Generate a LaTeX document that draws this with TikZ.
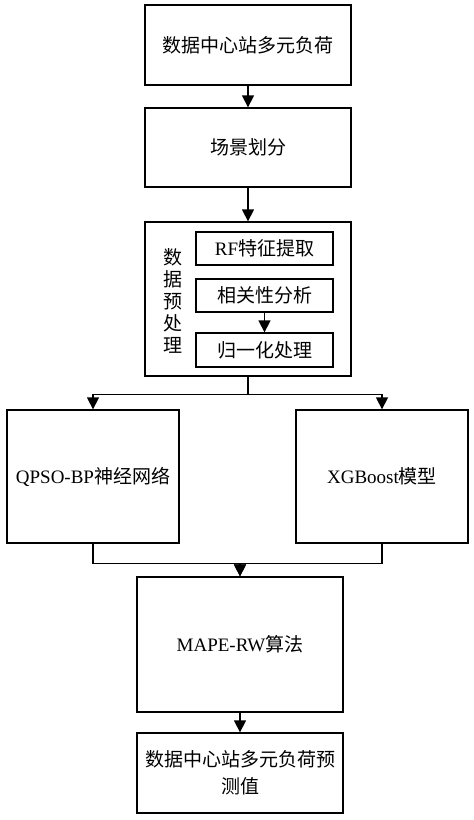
\documentclass[tikz,border=0pt]{standalone}
\usepackage{fontspec}
\setmainfont{Liberation Serif}
\newfontfamily\cjk{Noto Sans CJK SC}
\usetikzlibrary{arrows.meta}
\begin{document}
\begin{tikzpicture}[x=1pt,y=-1pt,
  box/.style={draw, line width=1.3pt, inner sep=0pt, align=center,
              font=\fontsize{19}{27}\selectfont},
  arr/.style={line width=1.3pt, -{Triangle[length=12pt,width=12pt]}},
  ln/.style={line width=1.3pt}]
\useasboundingbox (0,0) rectangle (474,820);
\node[box, minimum width=206pt, minimum height=80pt] (b1) at (248,45) {\cjk 数据中心站多元负荷};
\node[box, minimum width=206pt, minimum height=79pt] (b2) at (248,147.5) {\cjk 场景划分};
\node[box, minimum width=206pt, minimum height=154pt] (b3) at (248,299) {};
\node[box, minimum width=137pt, minimum height=33pt] (r1) at (264.5,248.5) {RF{\cjk 特征提取}};
\node[box, minimum width=137pt, minimum height=33pt] (r2) at (264.5,295.5) {\cjk 相关性分析};
\node[box, minimum width=137pt, minimum height=34pt] (r3) at (264.5,350) {\cjk 归一化处理};
\node[align=center, inner sep=0pt, font=\fontsize{19}{22}\selectfont\cjk] (vt) at (173,301) {数\\据\\预\\处\\理};
\node[box, minimum width=172pt, minimum height=133pt] (L) at (93,476.5) {QPSO-BP{\cjk 神经网络}};
\node[box, minimum width=172pt, minimum height=133pt] (R) at (382,476.5) {XGBoost{\cjk 模型}};
\node[box, minimum width=206pt, minimum height=135pt] (M) at (240,644.5) {MAPE-RW{\cjk 算法}};
\node[box, minimum width=206pt, minimum height=80pt] (F) at (240,773) {\cjk 数据中心站多元负荷预\\\cjk 测值};
\draw[arr] (b1) -- (b2);
\draw[arr] (b2) -- (b3);
\draw[arr] (r2) -- (r3);
\draw[arr] (b3.south) -- ++(0,18) -| (L.north);
\draw[arr] (b3.south) -- ++(0,18) -| (R.north);
\draw[arr] (L.south) -- ++(0,20) -| (M.north);
\draw[arr] (R.south) -- ++(0,20) -| (M.north);
\draw[arr] (M) -- (F);
\end{tikzpicture}
\end{document}
